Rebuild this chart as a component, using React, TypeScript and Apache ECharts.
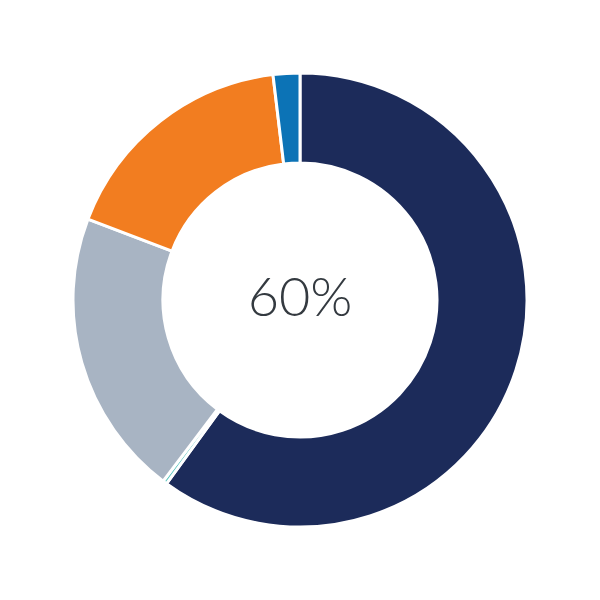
import React, { useEffect, useRef } from "react";
import * as echarts from "echarts";

const categories = ["Navy", "Teal", "Gray", "Orange", "Blue"];
const values = [60, 0.3, 20.5, 17.3, 1.9];
const colors = ["#1c2b5a", "#5ec6c0", "#a8b4c3", "#f27d20", "#0c73b6"];
const centerLabel = "60%";

export default function App() {
  const ref = useRef<HTMLDivElement>(null);
  useEffect(() => {
    if (!ref.current) return;
    const chart = echarts.init(ref.current, null, { renderer: "svg" });
    chart.setOption({
      animation: false,
      backgroundColor: "#ffffff",
      graphic: [
        {
          type: "text",
          x: 300,
          y: 295,
          style: {
            text: centerLabel,
            fontFamily: "Lato",
            fontWeight: 300,
            fontSize: 54,
            fill: "#343a40",
            textAlign: "center",
            textVerticalAlign: "middle",
          },
        },
      ],
      series: [
        {
          type: "pie",
          center: [300, 300],
          radius: [137, 227],
          startAngle: 90,
          clockwise: true,
          label: { show: false },
          labelLine: { show: false },
          emphasis: { disabled: true },
          itemStyle: { borderColor: "#ffffff", borderWidth: 3 },
          data: categories.map((name, i) => ({
            name,
            value: values[i],
            itemStyle: { color: colors[i] },
          })),
        },
      ],
    });
    return () => chart.dispose();
  }, []);
  return (
    <div
      ref={ref}
      style={{ position: "fixed", left: 0, top: 0, width: 600, height: 600 }}
    />
  );
}
